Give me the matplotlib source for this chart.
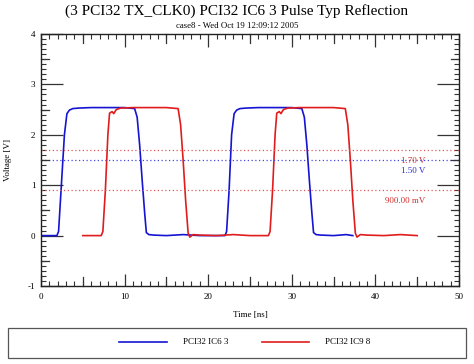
import matplotlib
matplotlib.use("Agg")
import matplotlib.pyplot as plt
from matplotlib.ticker import MultipleLocator
from matplotlib.lines import Line2D
from matplotlib.patches import Rectangle

# ---- data ----
blue_t = [0, 1.9, 2.1, 2.4, 2.8, 3.1, 3.4, 3.8, 4.5, 6, 8, 10, 11.2, 11.5, 11.8, 12.1, 12.4, 12.6, 12.9, 13.5, 15, 17, 19, 21, 22.0,
          22.2, 22.5, 22.8, 23.1, 23.4, 23.8, 24.5, 26, 28, 30, 31.2, 31.5, 31.8, 32.1, 32.4, 32.6, 32.9, 33.5, 35, 36.5, 37.3]
blue_v = [0, 0, 0.08, 0.9, 2.0, 2.42, 2.49, 2.52, 2.53, 2.54, 2.54, 2.54, 2.52, 2.35, 1.8, 1.1, 0.45, 0.06, 0.02, 0.01, 0.0, 0.02, 0.0, 0.0, 0.0,
          0.08, 0.9, 2.0, 2.42, 2.49, 2.52, 2.53, 2.54, 2.54, 2.54, 2.52, 2.35, 1.8, 1.1, 0.45, 0.06, 0.02, 0.01, 0.0, 0.02, 0.0]
red_t = [5.0, 7.2, 7.4, 7.7, 8.0, 8.2, 8.5, 8.7, 9.0, 9.5, 11, 13, 15, 16.4, 16.7, 17.0, 17.3, 17.6, 17.8, 18.2, 19, 21, 23, 25, 27.2,
         27.4, 27.7, 28.0, 28.2, 28.5, 28.7, 29.0, 29.5, 31, 33, 35, 36.4, 36.7, 37.0, 37.3, 37.6, 37.8, 38.2, 39, 41, 43, 45]
red_v = [0, 0, 0.08, 0.9, 2.0, 2.43, 2.46, 2.42, 2.5, 2.53, 2.54, 2.54, 2.54, 2.52, 2.2, 1.5, 0.7, 0.05, -0.03, 0.02, 0.01, 0.0, 0.02, 0.0, 0.0,
         0.08, 0.9, 2.0, 2.43, 2.46, 2.42, 2.5, 2.53, 2.54, 2.54, 2.54, 2.52, 2.2, 1.5, 0.7, 0.05, -0.03, 0.02, 0.01, 0.0, 0.02, 0.0]

thresholds = [1.70, 1.50, 0.90]
threshold_labels = ["1.70 V", "1.50 V", "900.00 mV"]
threshold_colors = ["#e05a5a", "#4a4ae0", "#e05a5a"]
label_colors = ["#d03030", "#3030d0", "#d03030"]

series_names = ["PCI32 IC6 3", "PCI32 IC9 8"]
series_colors = ["#1414d2", "#e01c1c"]

title = "(3 PCI32 TX_CLK0) PCI32 IC6 3 Pulse Typ Reflection"
subtitle = "case8 - Wed Oct 19 12:09:12 2005"

plt.rcParams['font.family'] = ['Liberation Serif', 'DejaVu Serif']
plt.rcParams['axes.unicode_minus'] = False

fig = plt.figure(figsize=(4.74, 3.64), dpi=100)
ax = fig.add_axes([41/474, 1-286/364, (459-41)/474, (286-34)/364])

ax.plot(blue_t, blue_v, color=series_colors[0], lw=1.2)
ax.plot(red_t, red_v, color=series_colors[1], lw=1.2)

for y, c in zip(thresholds, threshold_colors):
    ax.axhline(y, color=c, lw=0.9, ls=(0, (1, 2)))

for y, lab, c in zip(thresholds, threshold_labels, label_colors):
    ax.text(46, y - 0.22, lab, color=c, fontsize=6.5, ha='right', va='center')

ax.set_xlim(0, 50)
ax.set_ylim(-1, 4)
ax.xaxis.set_major_locator(MultipleLocator(10))
ax.xaxis.set_minor_locator(MultipleLocator(1))
ax.yaxis.set_major_locator(MultipleLocator(1))
ax.yaxis.set_minor_locator(MultipleLocator(0.1))

ax.tick_params(axis='both', which='both', direction='in', top=True, right=True, colors='#333333', labelcolor='black', labelsize=6.5)
ax.tick_params(axis='x', which='major', length=9, width=0.9, pad=5)
ax.tick_params(axis='x', which='minor', length=3.5, width=0.8)
ax.tick_params(axis='y', which='major', length=16, width=0.9, pad=4)
ax.tick_params(axis='y', which='minor', length=3.5, width=0.8)
# medium ticks at every 5 ns and every 0.5 V
for xv in [5, 15, 25, 35, 45]:
    ax.plot([xv, xv], [-1, -1 + 9/50.4], color='#333333', lw=0.9, clip_on=False)
    ax.plot([xv, xv], [4, 4 - 9/50.4], color='#333333', lw=0.9, clip_on=False)
for yv in [-0.5, 0.5, 1.5, 2.5, 3.5]:
    ax.plot([0, 8/8.36], [yv, yv], color='#333333', lw=0.9, clip_on=False)
    ax.plot([50, 50 - 8/8.36], [yv, yv], color='#333333', lw=0.9, clip_on=False)

for s in ax.spines.values():
    s.set_color('#222222')
    s.set_linewidth(1.0)

ax.set_xlabel("Time [ns]", fontsize=6.5, labelpad=7)
ax.set_ylabel("Voltage [V]", fontsize=6.5)
ax.yaxis.set_label_coords((12 - 41) / 418, 0.5)

fig.text(0.5, 1-11/364, title, ha='center', va='center', fontsize=11)
fig.text(0.5, 1-25.5/364, subtitle, ha='center', va='center', fontsize=6.3)

# legend box
fig.add_artist(Rectangle((8/474, 1-358/364), (466-8)/474, 30/364, transform=fig.transFigure,
                         fill=False, edgecolor='#555555', lw=0.9))
ly = 1-342/364
fig.add_artist(Line2D([119/474, 167/474], [ly, ly], transform=fig.transFigure, color=series_colors[0], lw=1.2))
fig.text(183/474, ly, series_names[0], ha='left', va='center', fontsize=6.5)
fig.add_artist(Line2D([262/474, 309/474], [ly, ly], transform=fig.transFigure, color=series_colors[1], lw=1.2))
fig.text(325/474, ly, series_names[1], ha='left', va='center', fontsize=6.5)

fig.savefig("out.png", dpi=100)
